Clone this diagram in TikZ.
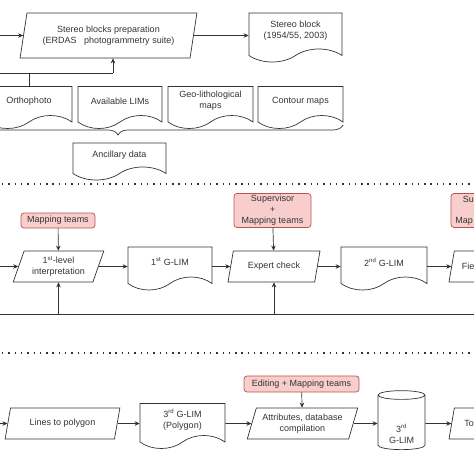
\documentclass[tikz,border=0pt]{standalone}
\usepackage{fontspec}
\setmainfont{Liberation Sans}
\usetikzlibrary{shapes.geometric,shapes.symbols,arrows.meta,decorations.pathreplacing}
\definecolor{teamfill}{HTML}{F8CECC}
\definecolor{teamline}{HTML}{B85450}
\definecolor{flowline}{HTML}{333333}

\begin{document}
\begin{tikzpicture}
[x=1pt,y=-1pt,line width=.7pt,color=flowline,
 font=\fontsize{9}{11}\selectfont,
 >={Stealth[length=5pt,width=4.5pt]},
 para/.style={draw,trapezium,trapezium stretches=true,trapezium left angle=68,
   trapezium right angle=112,minimum height=31,inner sep=0pt,align=center},
 doc/.style={draw,tape,tape bend top=none,tape bend bottom=in and out,
   tape bend height=13,minimum height=43,inner sep=0pt,align=center},
 team/.style={draw=teamline,fill=teamfill,rounded corners=3pt,inner sep=0pt,align=center},
 sep/.style={line width=1.4pt,dash pattern=on 1.4pt off 4.9pt}]

\useasboundingbox (0,0) rectangle (474,474);

% top block
\node[para,trapezium left angle=74,trapezium right angle=106,minimum width=177,minimum height=45]
  (prep) at (108.5,35.5) {Stereo blocks preparation\\(ERDAS\ \ \ photogrammetry suite)};
\node[doc,minimum width=93,minimum height=49] (block) at (295.5,31) {Stereo block\\(1954/55, 2003)};

\node[doc,minimum width=86,minimum height=42] (ortho) at (29,101) {Orthophoto};
\node[doc,minimum width=84,minimum height=42] (lims) at (120,101) {Available LIMs};
\node[doc,minimum width=85,minimum height=42] (geo) at (210.5,101) {Geo-lithological\\maps};
\node[doc,minimum width=85,minimum height=42] (contour) at (300.5,101) {Contour maps};
\node[doc,minimum width=93,minimum height=37] (ancil) at (119.5,155) {Ancillary data};

\coordinate (inA) at (0,35.5);
\coordinate (fbA) at (0,73);
\coordinate (upA) at (113,73);

\draw[->] (inA) -- (prep.west);
\draw[->] (prep.east) -- (prep.east -| block.west);
\draw (fbA) -- (upA);
\draw[->] (upA) -- (upA |- prep.south);
\draw (ortho.north) -- (ortho.north |- fbA);
\draw[decorate,decoration={brace,mirror,amplitude=10pt}] (-107,125) -- (343,125); %group

\draw[sep] (2,184) -- (474,184);

% middle block
\node[team,minimum width=74,minimum height=15] (map1) at (58,220.5) {Mapping teams};
\node[team,minimum width=77,minimum height=34] (sup1) at (272.5,210.5) {Supervisor\\+\\Mapping teams};
\node[team,minimum width=77,minimum height=34] (sup2) at (489.5,210.5) {};
\node[anchor=west,inner sep=0pt] (sup2a) at (462.5,199.5) {Su};
\node[anchor=west,inner sep=0pt] (sup2b) at (455,221.5) {Map};

\node[para,minimum width=91] (interp) at (58.5,266.5) {1\textsuperscript{st}-level\\interpretation};
\node[doc,minimum width=84] (glim1) at (170,262) {1\textsuperscript{st} G-LIM};
\node[para,minimum width=92] (expert) at (274,266.5) {Expert check};
\node[doc,minimum width=86] (glim2) at (384,262) {2\textsuperscript{nd} G-LIM};
\node[para,minimum width=92] (field) at (495,266.5) {\phantom{Expert check}};
\node[anchor=west,inner sep=0pt] (fielda) at (461.5,266.5) {Fie};

\coordinate (inB) at (0,266.5);
\coordinate (fbL) at (0,314);
\coordinate (fbR) at (480,314);

\draw[->] (inB) -- (interp.west);
\draw[->] (interp.east) -- (interp.east -| glim1.west);
\draw[->] (interp.east -| glim1.east) -- (expert.west);
\draw[->] (expert.east) -- (expert.east -| glim2.west);
\draw[->] (expert.east -| glim2.east) -- (field.west);
\draw[->] (map1) -- (interp);
\draw[->] (sup1) -- (expert);
\draw (fbL) -- (fbR); %feedback
\draw[->] (interp.south |- fbL) -- (interp.south);
\draw[->] (expert.south |- fbL) -- (expert.south);

\draw[sep] (2,353) -- (474,353);

% bottom block
\node[team,minimum width=115,minimum height=16] (edit) at (301.5,384) {Editing + Mapping teams};

\node[para,minimum width=115] (lines) at (62.5,423.5) {Lines to polygon};
\node[doc,minimum width=85,minimum height=45] (glim3p) at (182.5,419.5) {3\textsuperscript{rd} G-LIM\\(Polygon)};
\node[para,minimum width=111] (attr) at (302.5,423.5) {Attributes, database\\compilation};
\node[draw,cylinder,shape border rotate=90,shape aspect=.35,minimum width=47,minimum height=59,
  inner sep=0pt,align=center] (glim3) at (401.5,422.5) {\rule{0pt}{31pt}3\textsuperscript{rd}\\G-LIM};
\node[para,minimum width=92] (tonode) at (495,423.5) {\phantom{Expert check}};
\node[anchor=west,inner sep=0pt] (tonodea) at (464,423.5) {To};

\coordinate (inC) at (0,423.5);

\draw[->] (inC) -- (lines.west);
\draw[->] (lines.east) -- (lines.east -| glim3p.west);
\draw[->] (lines.east -| glim3p.east) -- (attr.west);
\draw[->] (attr.east) -- (attr.east -| glim3.west);
\draw[->] (attr.east -| glim3.east) -- (tonode.west);
\draw[->] (edit) -- (attr);

\end{tikzpicture}
\end{document}
